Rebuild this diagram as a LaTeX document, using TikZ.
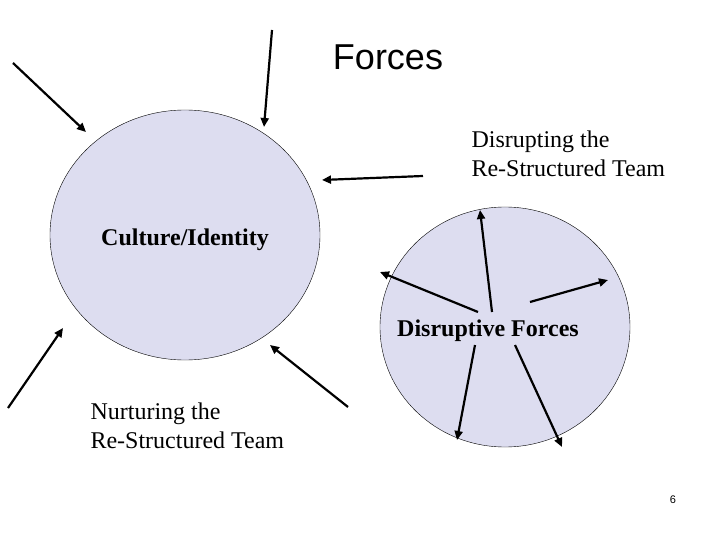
\documentclass[tikz,border=0pt]{standalone}
\usepackage{fontspec}
\setmainfont{Liberation Serif}
\setsansfont{Liberation Sans}
\usetikzlibrary{arrows.meta}
\definecolor{lav}{RGB}{221,221,240}
\tikzset{
	force/.style = {line width = 2.2pt, -{Triangle[length = 9pt, width = 8pt]}},
	blob/.style = {draw, fill = lav, thin}
}
\begin{document}
\begin{tikzpicture}[x = 1pt, y = -1pt]
		\useasboundingbox (0, 0) rectangle (720, 540);
		\draw[blob] (185, 235) ellipse (135 and 125);
		\draw[blob] (505, 327) ellipse (125 and 120);
		\node[font = \sffamily\fontsize{36}{40}\selectfont] (title) at (388, 57) {Forces};
		\node[font = \bfseries\fontsize{24}{28}\selectfont] (culture) at (185, 240) {Culture/Identity};
		\node[font = \bfseries\fontsize{24}{28}\selectfont] (disrupt) at (488, 331) {Disruptive Forces};
		\node[anchor = west, align = left, font = \fontsize{24}{29}\selectfont] (top) at (468, 154) {Disrupting the\\Re-Structured Team};
		\node[anchor = west, align = left, font = \fontsize{24}{29}\selectfont] (bottom) at (87, 426) {Nurturing the\\Re-Structured Team};
		\node[font = \sffamily\fontsize{11}{13}\selectfont] (page) at (673, 500) {6};
		% forces on the culture
		\draw[force] (13, 63) -- (86, 132);
		\draw[force] (272, 30) -- (264, 127);
		\draw[force] (423, 176) -- (322, 180);
		\draw[force] (8, 408) -- (63, 328);
		\draw[force] (348, 407) -- (270, 345);
		% disruptive forces
		\draw[force] (492, 312) -- (480, 210);
		\draw[force] (478, 312) -- (380, 272);
		\draw[force] (530, 302) -- (608, 280);
		\draw[force] (475, 345) -- (457, 440);
		\draw[force] (515, 345) -- (562, 447);
	\end{tikzpicture}
\end{document}
